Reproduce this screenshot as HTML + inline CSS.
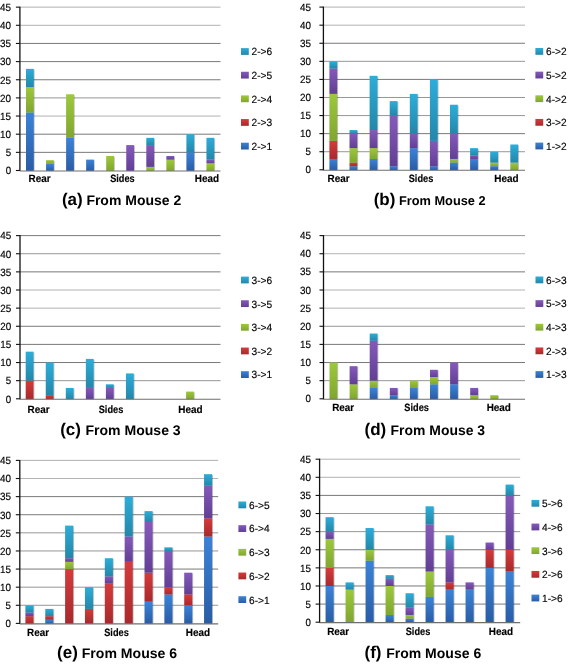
<!DOCTYPE html>
<html lang="en"><head><meta charset="utf-8"><title>Mouse interaction charts</title>
<style>
html,body{margin:0;padding:0;background:#fff;}
body{width:568px;height:664px;overflow:hidden;}
svg{display:block;}
text{font-family:"Liberation Sans",Arial,Helvetica,sans-serif;fill:#000;text-rendering:geometricPrecision;}
.yl{font-size:10.5px;text-anchor:end;stroke:#000;stroke-width:0.15px;}
.lg{font-size:10.5px;stroke:#000;stroke-width:0.15px;}
.ct{font-size:10.6px;font-weight:bold;text-anchor:middle;stroke:#000;stroke-width:0.15px;}
.tg{font-size:17px;font-weight:bold;}
.tt{font-size:14px;font-weight:bold;}
.grid{stroke-width:0.9;}
.gL{stroke:#a9a9a9;}
.gM{stroke:#8a8a8a;}
.gD{stroke:#6a6a6a;}
.base{stroke:#6e6e6e;stroke-width:1.1;}
.ax{stroke:#111;stroke-width:1.3;}
.tk{stroke:#111;stroke-width:1.1;}
</style></head><body>
<svg width="568" height="664" viewBox="0 0 568 664">
<defs>
<linearGradient id="gb" x1="0" y1="0" x2="0" y2="1"><stop offset="0" stop-color="#3b83d8"/><stop offset="1" stop-color="#2a5ca4"/></linearGradient>
<linearGradient id="gr" x1="0" y1="0" x2="0" y2="1"><stop offset="0" stop-color="#d63b3b"/><stop offset="1" stop-color="#a8292c"/></linearGradient>
<linearGradient id="gg" x1="0" y1="0" x2="0" y2="1"><stop offset="0" stop-color="#9dc83c"/><stop offset="1" stop-color="#80a62f"/></linearGradient>
<linearGradient id="gp" x1="0" y1="0" x2="0" y2="1"><stop offset="0" stop-color="#855aba"/><stop offset="1" stop-color="#613f94"/></linearGradient>
<linearGradient id="gt" x1="0" y1="0" x2="0" y2="1"><stop offset="0" stop-color="#2dadd9"/><stop offset="1" stop-color="#2387aa"/></linearGradient>
<filter id="sh" x="-30%" y="-5%" width="180%" height="115%"><feGaussianBlur stdDeviation="0.7"/></filter>
</defs>
<rect width="568" height="664" fill="#fff"/>
<g id="chart-a">
<line class="grid gD" x1="19.9" y1="152.35" x2="220.5" y2="152.35"/>
<line class="grid gD" x1="19.9" y1="134.2" x2="220.5" y2="134.2"/>
<line class="grid gL" x1="19.9" y1="116.05" x2="220.5" y2="116.05"/>
<line class="grid gM" x1="19.9" y1="97.9" x2="220.5" y2="97.9"/>
<line class="grid gD" x1="19.9" y1="79.75" x2="220.5" y2="79.75"/>
<line class="grid gD" x1="19.9" y1="61.6" x2="220.5" y2="61.6"/>
<line class="grid gD" x1="19.9" y1="43.45" x2="220.5" y2="43.45"/>
<line class="grid gL" x1="19.9" y1="25.3" x2="220.5" y2="25.3"/>
<line class="grid gL" x1="19.9" y1="7.15" x2="220.5" y2="7.15"/>
<rect x="26.9" y="69.66" width="7.8" height="100.84" fill="#000" opacity="0.22" filter="url(#sh)"/>
<rect x="26" y="112.42" width="7.8" height="58.48" fill="url(#gb)"/>
<rect x="26" y="87.01" width="7.8" height="25.41" fill="url(#gg)"/>
<rect x="26" y="68.86" width="7.8" height="18.15" fill="url(#gt)"/>
<rect x="46.95" y="160.95" width="7.8" height="9.55" fill="#000" opacity="0.22" filter="url(#sh)"/>
<rect x="46.05" y="163.78" width="7.8" height="7.12" fill="url(#gb)"/>
<rect x="46.05" y="160.15" width="7.8" height="3.63" fill="url(#gg)"/>
<rect x="67" y="95.07" width="7.8" height="75.43" fill="#000" opacity="0.22" filter="url(#sh)"/>
<rect x="66.1" y="137.83" width="7.8" height="33.07" fill="url(#gb)"/>
<rect x="66.1" y="94.27" width="7.8" height="43.56" fill="url(#gg)"/>
<rect x="87.05" y="160.41" width="7.8" height="10.09" fill="#000" opacity="0.22" filter="url(#sh)"/>
<rect x="86.15" y="159.61" width="7.8" height="11.29" fill="url(#gb)"/>
<rect x="107.1" y="156.78" width="7.8" height="13.72" fill="#000" opacity="0.22" filter="url(#sh)"/>
<rect x="106.2" y="155.98" width="7.8" height="14.92" fill="url(#gg)"/>
<rect x="127.15" y="145.89" width="7.8" height="24.61" fill="#000" opacity="0.22" filter="url(#sh)"/>
<rect x="126.25" y="145.09" width="7.8" height="25.81" fill="url(#gp)"/>
<rect x="147.2" y="138.63" width="7.8" height="31.87" fill="#000" opacity="0.22" filter="url(#sh)"/>
<rect x="146.3" y="166.87" width="7.8" height="4.03" fill="url(#gg)"/>
<rect x="146.3" y="145.09" width="7.8" height="21.78" fill="url(#gp)"/>
<rect x="146.3" y="137.83" width="7.8" height="7.26" fill="url(#gt)"/>
<rect x="167.25" y="156.78" width="7.8" height="13.72" fill="#000" opacity="0.22" filter="url(#sh)"/>
<rect x="166.35" y="159.61" width="7.8" height="11.29" fill="url(#gg)"/>
<rect x="166.35" y="155.98" width="7.8" height="3.63" fill="url(#gp)"/>
<rect x="187.3" y="135" width="7.8" height="35.5" fill="#000" opacity="0.22" filter="url(#sh)"/>
<rect x="186.4" y="152.35" width="7.8" height="18.55" fill="url(#gb)"/>
<rect x="186.4" y="134.2" width="7.8" height="18.15" fill="url(#gt)"/>
<rect x="207.35" y="138.63" width="7.8" height="31.87" fill="#000" opacity="0.22" filter="url(#sh)"/>
<rect x="206.45" y="163.24" width="7.8" height="7.66" fill="url(#gg)"/>
<rect x="206.45" y="159.61" width="7.8" height="3.63" fill="url(#gp)"/>
<rect x="206.45" y="137.83" width="7.8" height="21.78" fill="url(#gt)"/>
<line class="ax" x1="19.9" y1="6.65" x2="19.9" y2="171"/>
<line class="base" x1="19.9" y1="170.95" x2="220.5" y2="170.95"/>
<line class="tk" x1="15.9" y1="170.5" x2="19.9" y2="170.5"/>
<line class="tk" x1="15.9" y1="152.35" x2="19.9" y2="152.35"/>
<line class="tk" x1="15.9" y1="134.2" x2="19.9" y2="134.2"/>
<line class="tk" x1="15.9" y1="116.05" x2="19.9" y2="116.05"/>
<line class="tk" x1="15.9" y1="97.9" x2="19.9" y2="97.9"/>
<line class="tk" x1="15.9" y1="79.75" x2="19.9" y2="79.75"/>
<line class="tk" x1="15.9" y1="61.6" x2="19.9" y2="61.6"/>
<line class="tk" x1="15.9" y1="43.45" x2="19.9" y2="43.45"/>
<line class="tk" x1="15.9" y1="25.3" x2="19.9" y2="25.3"/>
<line class="tk" x1="15.9" y1="7.15" x2="19.9" y2="7.15"/>
<text class="yl" x="11.1" y="174" textLength="5.4" lengthAdjust="spacingAndGlyphs">0</text>
<text class="yl" x="11.1" y="156" textLength="5.4" lengthAdjust="spacingAndGlyphs">5</text>
<text class="yl" x="11.1" y="138" textLength="11" lengthAdjust="spacingAndGlyphs">10</text>
<text class="yl" x="11.1" y="120" textLength="11" lengthAdjust="spacingAndGlyphs">15</text>
<text class="yl" x="11.1" y="102" textLength="11" lengthAdjust="spacingAndGlyphs">20</text>
<text class="yl" x="11.1" y="84" textLength="11" lengthAdjust="spacingAndGlyphs">25</text>
<text class="yl" x="11.1" y="65" textLength="11" lengthAdjust="spacingAndGlyphs">30</text>
<text class="yl" x="11.1" y="47" textLength="11" lengthAdjust="spacingAndGlyphs">35</text>
<text class="yl" x="11.1" y="29" textLength="11" lengthAdjust="spacingAndGlyphs">40</text>
<text class="yl" x="11.1" y="11" textLength="11" lengthAdjust="spacingAndGlyphs">45</text>
<text class="ct" x="39.6" y="182" textLength="22" lengthAdjust="spacingAndGlyphs">Rear</text>
<text class="ct" x="122.4" y="182" textLength="24.5" lengthAdjust="spacingAndGlyphs">Sides</text>
<text class="ct" x="207" y="182" textLength="24.3" lengthAdjust="spacingAndGlyphs">Head</text>
<rect x="241" y="48.1" width="7.8" height="6.8" fill="url(#gt)"/>
<text class="lg" x="251.6" y="55" textLength="20.6" lengthAdjust="spacingAndGlyphs">2-&gt;6</text>
<rect x="241" y="71.75" width="7.8" height="6.8" fill="url(#gp)"/>
<text class="lg" x="251.6" y="79" textLength="20.6" lengthAdjust="spacingAndGlyphs">2-&gt;5</text>
<rect x="241" y="95.4" width="7.8" height="6.8" fill="url(#gg)"/>
<text class="lg" x="251.6" y="103" textLength="20.6" lengthAdjust="spacingAndGlyphs">2-&gt;4</text>
<rect x="241" y="119.05" width="7.8" height="6.8" fill="url(#gr)"/>
<text class="lg" x="251.6" y="126" textLength="20.6" lengthAdjust="spacingAndGlyphs">2-&gt;3</text>
<rect x="241" y="142.7" width="7.8" height="6.8" fill="url(#gb)"/>
<text class="lg" x="251.6" y="150" textLength="20.6" lengthAdjust="spacingAndGlyphs">2-&gt;1</text>
<text class="tg" x="61.9" y="205">(a)</text>
<text class="tt" x="86.4" y="205" style="font-size:14px" textLength="94.8" lengthAdjust="spacingAndGlyphs">From Mouse 2</text>
</g>
<g id="chart-b">
<line class="grid gM" x1="323.4" y1="151.72" x2="525" y2="151.72"/>
<line class="grid gD" x1="323.4" y1="133.64" x2="525" y2="133.64"/>
<line class="grid gM" x1="323.4" y1="115.57" x2="525" y2="115.57"/>
<line class="grid gM" x1="323.4" y1="97.49" x2="525" y2="97.49"/>
<line class="grid gD" x1="323.4" y1="79.41" x2="525" y2="79.41"/>
<line class="grid gM" x1="323.4" y1="61.33" x2="525" y2="61.33"/>
<line class="grid gD" x1="323.4" y1="43.26" x2="525" y2="43.26"/>
<line class="grid gL" x1="323.4" y1="25.18" x2="525" y2="25.18"/>
<line class="grid gL" x1="323.4" y1="7.1" x2="525" y2="7.1"/>
<rect x="330.3" y="62.13" width="7.8" height="107.67" fill="#000" opacity="0.22" filter="url(#sh)"/>
<rect x="329.4" y="158.95" width="7.8" height="11.25" fill="url(#gb)"/>
<rect x="329.4" y="140.88" width="7.8" height="18.08" fill="url(#gr)"/>
<rect x="329.4" y="93.87" width="7.8" height="47" fill="url(#gg)"/>
<rect x="329.4" y="68.56" width="7.8" height="25.31" fill="url(#gp)"/>
<rect x="329.4" y="61.33" width="7.8" height="7.23" fill="url(#gt)"/>
<rect x="350.4" y="130.83" width="7.8" height="38.97" fill="#000" opacity="0.22" filter="url(#sh)"/>
<rect x="349.5" y="166.18" width="7.8" height="4.02" fill="url(#gb)"/>
<rect x="349.5" y="162.57" width="7.8" height="3.62" fill="url(#gr)"/>
<rect x="349.5" y="148.11" width="7.8" height="14.46" fill="url(#gg)"/>
<rect x="349.5" y="133.64" width="7.8" height="14.46" fill="url(#gp)"/>
<rect x="349.5" y="130.03" width="7.8" height="3.62" fill="url(#gt)"/>
<rect x="370.5" y="76.6" width="7.8" height="93.2" fill="#000" opacity="0.22" filter="url(#sh)"/>
<rect x="369.6" y="158.95" width="7.8" height="11.25" fill="url(#gb)"/>
<rect x="369.6" y="148.11" width="7.8" height="10.85" fill="url(#gg)"/>
<rect x="369.6" y="130.03" width="7.8" height="18.08" fill="url(#gp)"/>
<rect x="369.6" y="75.8" width="7.8" height="54.23" fill="url(#gt)"/>
<rect x="390.6" y="101.9" width="7.8" height="67.9" fill="#000" opacity="0.22" filter="url(#sh)"/>
<rect x="389.7" y="166.18" width="7.8" height="4.02" fill="url(#gb)"/>
<rect x="389.7" y="115.57" width="7.8" height="50.62" fill="url(#gp)"/>
<rect x="389.7" y="101.1" width="7.8" height="14.46" fill="url(#gt)"/>
<rect x="410.7" y="94.67" width="7.8" height="75.13" fill="#000" opacity="0.22" filter="url(#sh)"/>
<rect x="409.8" y="148.11" width="7.8" height="22.09" fill="url(#gb)"/>
<rect x="409.8" y="133.64" width="7.8" height="14.46" fill="url(#gp)"/>
<rect x="409.8" y="93.87" width="7.8" height="39.77" fill="url(#gt)"/>
<rect x="430.8" y="80.21" width="7.8" height="89.59" fill="#000" opacity="0.22" filter="url(#sh)"/>
<rect x="429.9" y="166.18" width="7.8" height="4.02" fill="url(#gb)"/>
<rect x="429.9" y="140.88" width="7.8" height="25.31" fill="url(#gp)"/>
<rect x="429.9" y="79.41" width="7.8" height="61.46" fill="url(#gt)"/>
<rect x="450.9" y="105.52" width="7.8" height="64.28" fill="#000" opacity="0.22" filter="url(#sh)"/>
<rect x="450" y="162.57" width="7.8" height="7.63" fill="url(#gb)"/>
<rect x="450" y="158.95" width="7.8" height="3.62" fill="url(#gg)"/>
<rect x="450" y="133.64" width="7.8" height="25.31" fill="url(#gp)"/>
<rect x="450" y="104.72" width="7.8" height="28.92" fill="url(#gt)"/>
<rect x="471" y="148.91" width="7.8" height="20.89" fill="#000" opacity="0.22" filter="url(#sh)"/>
<rect x="470.1" y="158.95" width="7.8" height="11.25" fill="url(#gb)"/>
<rect x="470.1" y="155.34" width="7.8" height="3.62" fill="url(#gp)"/>
<rect x="470.1" y="148.11" width="7.8" height="7.23" fill="url(#gt)"/>
<rect x="491.1" y="152.52" width="7.8" height="17.28" fill="#000" opacity="0.22" filter="url(#sh)"/>
<rect x="490.2" y="166.18" width="7.8" height="4.02" fill="url(#gb)"/>
<rect x="490.2" y="162.57" width="7.8" height="3.62" fill="url(#gg)"/>
<rect x="490.2" y="151.72" width="7.8" height="10.85" fill="url(#gt)"/>
<rect x="511.2" y="145.29" width="7.8" height="24.51" fill="#000" opacity="0.22" filter="url(#sh)"/>
<rect x="510.3" y="162.57" width="7.8" height="7.63" fill="url(#gg)"/>
<rect x="510.3" y="144.49" width="7.8" height="18.08" fill="url(#gt)"/>
<line class="ax" x1="323.4" y1="6.6" x2="323.4" y2="170.3"/>
<line class="base" x1="323.4" y1="170.25" x2="525" y2="170.25"/>
<line class="tk" x1="319.4" y1="169.8" x2="323.4" y2="169.8"/>
<line class="tk" x1="319.4" y1="151.72" x2="323.4" y2="151.72"/>
<line class="tk" x1="319.4" y1="133.64" x2="323.4" y2="133.64"/>
<line class="tk" x1="319.4" y1="115.57" x2="323.4" y2="115.57"/>
<line class="tk" x1="319.4" y1="97.49" x2="323.4" y2="97.49"/>
<line class="tk" x1="319.4" y1="79.41" x2="323.4" y2="79.41"/>
<line class="tk" x1="319.4" y1="61.33" x2="323.4" y2="61.33"/>
<line class="tk" x1="319.4" y1="43.26" x2="323.4" y2="43.26"/>
<line class="tk" x1="319.4" y1="25.18" x2="323.4" y2="25.18"/>
<line class="tk" x1="319.4" y1="7.1" x2="323.4" y2="7.1"/>
<text class="yl" x="310.9" y="173" textLength="5.4" lengthAdjust="spacingAndGlyphs">0</text>
<text class="yl" x="310.9" y="155" textLength="5.4" lengthAdjust="spacingAndGlyphs">5</text>
<text class="yl" x="310.9" y="137" textLength="11" lengthAdjust="spacingAndGlyphs">10</text>
<text class="yl" x="310.9" y="119" textLength="11" lengthAdjust="spacingAndGlyphs">15</text>
<text class="yl" x="310.9" y="101" textLength="11" lengthAdjust="spacingAndGlyphs">20</text>
<text class="yl" x="310.9" y="83" textLength="11" lengthAdjust="spacingAndGlyphs">25</text>
<text class="yl" x="310.9" y="65" textLength="11" lengthAdjust="spacingAndGlyphs">30</text>
<text class="yl" x="310.9" y="47" textLength="11" lengthAdjust="spacingAndGlyphs">35</text>
<text class="yl" x="310.9" y="29" textLength="11" lengthAdjust="spacingAndGlyphs">40</text>
<text class="yl" x="310.9" y="11" textLength="11" lengthAdjust="spacingAndGlyphs">45</text>
<text class="ct" x="338.6" y="182" textLength="22" lengthAdjust="spacingAndGlyphs">Rear</text>
<text class="ct" x="421" y="182" textLength="24.5" lengthAdjust="spacingAndGlyphs">Sides</text>
<text class="ct" x="506.4" y="182" textLength="24.3" lengthAdjust="spacingAndGlyphs">Head</text>
<rect x="535.4" y="48" width="7.8" height="6.8" fill="url(#gt)"/>
<text class="lg" x="546" y="55" textLength="20.6" lengthAdjust="spacingAndGlyphs">6-&gt;2</text>
<rect x="535.4" y="71.65" width="7.8" height="6.8" fill="url(#gp)"/>
<text class="lg" x="546" y="79" textLength="20.6" lengthAdjust="spacingAndGlyphs">5-&gt;2</text>
<rect x="535.4" y="95.3" width="7.8" height="6.8" fill="url(#gg)"/>
<text class="lg" x="546" y="103" textLength="20.6" lengthAdjust="spacingAndGlyphs">4-&gt;2</text>
<rect x="535.4" y="118.95" width="7.8" height="6.8" fill="url(#gr)"/>
<text class="lg" x="546" y="126" textLength="20.6" lengthAdjust="spacingAndGlyphs">3-&gt;2</text>
<rect x="535.4" y="142.6" width="7.8" height="6.8" fill="url(#gb)"/>
<text class="lg" x="546" y="150" textLength="20.6" lengthAdjust="spacingAndGlyphs">1-&gt;2</text>
<text class="tg" x="373.7" y="205">(b)</text>
<text class="tt" x="398.9" y="205" style="font-size:12.8px" textLength="86.7" lengthAdjust="spacingAndGlyphs">From Mouse 2</text>
</g>
<g id="chart-c">
<line class="grid gM" x1="20" y1="380.67" x2="220.5" y2="380.67"/>
<line class="grid gD" x1="20" y1="362.53" x2="220.5" y2="362.53"/>
<line class="grid gD" x1="20" y1="344.4" x2="220.5" y2="344.4"/>
<line class="grid gD" x1="20" y1="326.27" x2="220.5" y2="326.27"/>
<line class="grid gL" x1="20" y1="308.13" x2="220.5" y2="308.13"/>
<line class="grid gL" x1="20" y1="290" x2="220.5" y2="290"/>
<line class="grid gD" x1="20" y1="271.87" x2="220.5" y2="271.87"/>
<line class="grid gM" x1="20" y1="253.73" x2="220.5" y2="253.73"/>
<line class="grid gD" x1="20" y1="235.6" x2="220.5" y2="235.6"/>
<rect x="26.6" y="352.45" width="7.8" height="46.35" fill="#000" opacity="0.22" filter="url(#sh)"/>
<rect x="25.7" y="380.67" width="7.8" height="18.53" fill="url(#gr)"/>
<rect x="25.7" y="351.65" width="7.8" height="29.01" fill="url(#gt)"/>
<rect x="46.65" y="363.33" width="7.8" height="35.47" fill="#000" opacity="0.22" filter="url(#sh)"/>
<rect x="45.75" y="395.17" width="7.8" height="4.03" fill="url(#gr)"/>
<rect x="45.75" y="362.53" width="7.8" height="32.64" fill="url(#gt)"/>
<rect x="66.7" y="388.72" width="7.8" height="10.08" fill="#000" opacity="0.22" filter="url(#sh)"/>
<rect x="65.8" y="387.92" width="7.8" height="11.28" fill="url(#gt)"/>
<rect x="86.75" y="359.71" width="7.8" height="39.09" fill="#000" opacity="0.22" filter="url(#sh)"/>
<rect x="85.85" y="387.92" width="7.8" height="11.28" fill="url(#gp)"/>
<rect x="85.85" y="358.91" width="7.8" height="29.01" fill="url(#gt)"/>
<rect x="106.8" y="385.09" width="7.8" height="13.71" fill="#000" opacity="0.22" filter="url(#sh)"/>
<rect x="105.9" y="387.92" width="7.8" height="11.28" fill="url(#gp)"/>
<rect x="105.9" y="384.29" width="7.8" height="3.63" fill="url(#gt)"/>
<rect x="126.85" y="374.21" width="7.8" height="24.59" fill="#000" opacity="0.22" filter="url(#sh)"/>
<rect x="125.95" y="373.41" width="7.8" height="25.79" fill="url(#gt)"/>
<rect x="187" y="392.35" width="7.8" height="6.45" fill="#000" opacity="0.22" filter="url(#sh)"/>
<rect x="186.1" y="391.55" width="7.8" height="7.65" fill="url(#gg)"/>
<line class="ax" x1="20" y1="235.1" x2="20" y2="399.3"/>
<line class="base" x1="20" y1="399.25" x2="220.5" y2="399.25"/>
<line class="tk" x1="16" y1="398.8" x2="20" y2="398.8"/>
<line class="tk" x1="16" y1="380.67" x2="20" y2="380.67"/>
<line class="tk" x1="16" y1="362.53" x2="20" y2="362.53"/>
<line class="tk" x1="16" y1="344.4" x2="20" y2="344.4"/>
<line class="tk" x1="16" y1="326.27" x2="20" y2="326.27"/>
<line class="tk" x1="16" y1="308.13" x2="20" y2="308.13"/>
<line class="tk" x1="16" y1="290" x2="20" y2="290"/>
<line class="tk" x1="16" y1="271.87" x2="20" y2="271.87"/>
<line class="tk" x1="16" y1="253.73" x2="20" y2="253.73"/>
<line class="tk" x1="16" y1="235.6" x2="20" y2="235.6"/>
<text class="yl" x="11.2" y="403" textLength="5.4" lengthAdjust="spacingAndGlyphs">0</text>
<text class="yl" x="11.2" y="384" textLength="5.4" lengthAdjust="spacingAndGlyphs">5</text>
<text class="yl" x="11.2" y="366" textLength="11" lengthAdjust="spacingAndGlyphs">10</text>
<text class="yl" x="11.2" y="348" textLength="11" lengthAdjust="spacingAndGlyphs">15</text>
<text class="yl" x="11.2" y="330" textLength="11" lengthAdjust="spacingAndGlyphs">20</text>
<text class="yl" x="11.2" y="312" textLength="11" lengthAdjust="spacingAndGlyphs">25</text>
<text class="yl" x="11.2" y="294" textLength="11" lengthAdjust="spacingAndGlyphs">30</text>
<text class="yl" x="11.2" y="276" textLength="11" lengthAdjust="spacingAndGlyphs">35</text>
<text class="yl" x="11.2" y="258" textLength="11" lengthAdjust="spacingAndGlyphs">40</text>
<text class="yl" x="11.2" y="239" textLength="11" lengthAdjust="spacingAndGlyphs">45</text>
<text class="ct" x="38.5" y="413" textLength="22" lengthAdjust="spacingAndGlyphs">Rear</text>
<text class="ct" x="111" y="413" textLength="24.5" lengthAdjust="spacingAndGlyphs">Sides</text>
<text class="ct" x="190.5" y="413" textLength="24.3" lengthAdjust="spacingAndGlyphs">Head</text>
<rect x="241" y="276.6" width="7.8" height="6.8" fill="url(#gt)"/>
<text class="lg" x="251.6" y="284" textLength="20.6" lengthAdjust="spacingAndGlyphs">3-&gt;6</text>
<rect x="241" y="300.25" width="7.8" height="6.8" fill="url(#gp)"/>
<text class="lg" x="251.6" y="308" textLength="20.6" lengthAdjust="spacingAndGlyphs">3-&gt;5</text>
<rect x="241" y="323.9" width="7.8" height="6.8" fill="url(#gg)"/>
<text class="lg" x="251.6" y="331" textLength="20.6" lengthAdjust="spacingAndGlyphs">3-&gt;4</text>
<rect x="241" y="347.55" width="7.8" height="6.8" fill="url(#gr)"/>
<text class="lg" x="251.6" y="355" textLength="20.6" lengthAdjust="spacingAndGlyphs">3-&gt;2</text>
<rect x="241" y="371.2" width="7.8" height="6.8" fill="url(#gb)"/>
<text class="lg" x="251.6" y="378" textLength="20.6" lengthAdjust="spacingAndGlyphs">3-&gt;1</text>
<text class="tg" x="60.2" y="435">(c)</text>
<text class="tt" x="85.4" y="435" style="font-size:14px" textLength="95.3" lengthAdjust="spacingAndGlyphs">From Mouse 3</text>
</g>
<g id="chart-d">
<line class="grid gM" x1="323.5" y1="380.67" x2="525" y2="380.67"/>
<line class="grid gD" x1="323.5" y1="362.53" x2="525" y2="362.53"/>
<line class="grid gD" x1="323.5" y1="344.4" x2="525" y2="344.4"/>
<line class="grid gM" x1="323.5" y1="326.27" x2="525" y2="326.27"/>
<line class="grid gL" x1="323.5" y1="308.13" x2="525" y2="308.13"/>
<line class="grid gL" x1="323.5" y1="290" x2="525" y2="290"/>
<line class="grid gD" x1="323.5" y1="271.87" x2="525" y2="271.87"/>
<line class="grid gL" x1="323.5" y1="253.73" x2="525" y2="253.73"/>
<line class="grid gM" x1="323.5" y1="235.6" x2="525" y2="235.6"/>
<rect x="330.4" y="363.33" width="7.8" height="35.47" fill="#000" opacity="0.22" filter="url(#sh)"/>
<rect x="329.5" y="362.53" width="7.8" height="36.67" fill="url(#gg)"/>
<rect x="350.5" y="366.96" width="7.8" height="31.84" fill="#000" opacity="0.22" filter="url(#sh)"/>
<rect x="349.6" y="384.29" width="7.8" height="14.91" fill="url(#gg)"/>
<rect x="349.6" y="366.16" width="7.8" height="18.13" fill="url(#gp)"/>
<rect x="370.6" y="334.32" width="7.8" height="64.48" fill="#000" opacity="0.22" filter="url(#sh)"/>
<rect x="369.7" y="387.92" width="7.8" height="11.28" fill="url(#gb)"/>
<rect x="369.7" y="380.67" width="7.8" height="7.25" fill="url(#gg)"/>
<rect x="369.7" y="340.77" width="7.8" height="39.89" fill="url(#gp)"/>
<rect x="369.7" y="333.52" width="7.8" height="7.25" fill="url(#gt)"/>
<rect x="390.7" y="388.72" width="7.8" height="10.08" fill="#000" opacity="0.22" filter="url(#sh)"/>
<rect x="389.8" y="395.17" width="7.8" height="4.03" fill="url(#gb)"/>
<rect x="389.8" y="387.92" width="7.8" height="7.25" fill="url(#gp)"/>
<rect x="410.8" y="381.47" width="7.8" height="17.33" fill="#000" opacity="0.22" filter="url(#sh)"/>
<rect x="409.9" y="387.92" width="7.8" height="11.28" fill="url(#gb)"/>
<rect x="409.9" y="380.67" width="7.8" height="7.25" fill="url(#gg)"/>
<rect x="430.9" y="370.59" width="7.8" height="28.21" fill="#000" opacity="0.22" filter="url(#sh)"/>
<rect x="430" y="384.29" width="7.8" height="14.91" fill="url(#gb)"/>
<rect x="430" y="377.04" width="7.8" height="7.25" fill="url(#gg)"/>
<rect x="430" y="369.79" width="7.8" height="7.25" fill="url(#gp)"/>
<rect x="451" y="363.33" width="7.8" height="35.47" fill="#000" opacity="0.22" filter="url(#sh)"/>
<rect x="450.1" y="384.29" width="7.8" height="14.91" fill="url(#gb)"/>
<rect x="450.1" y="362.53" width="7.8" height="21.76" fill="url(#gp)"/>
<rect x="471.1" y="388.72" width="7.8" height="10.08" fill="#000" opacity="0.22" filter="url(#sh)"/>
<rect x="470.2" y="395.17" width="7.8" height="4.03" fill="url(#gg)"/>
<rect x="470.2" y="387.92" width="7.8" height="7.25" fill="url(#gp)"/>
<rect x="491.2" y="395.97" width="7.8" height="2.83" fill="#000" opacity="0.22" filter="url(#sh)"/>
<rect x="490.3" y="395.17" width="7.8" height="4.03" fill="url(#gg)"/>
<line class="ax" x1="323.5" y1="235.1" x2="323.5" y2="399.3"/>
<line class="base" x1="323.5" y1="399.25" x2="525" y2="399.25"/>
<line class="tk" x1="319.5" y1="398.8" x2="323.5" y2="398.8"/>
<line class="tk" x1="319.5" y1="380.67" x2="323.5" y2="380.67"/>
<line class="tk" x1="319.5" y1="362.53" x2="323.5" y2="362.53"/>
<line class="tk" x1="319.5" y1="344.4" x2="323.5" y2="344.4"/>
<line class="tk" x1="319.5" y1="326.27" x2="323.5" y2="326.27"/>
<line class="tk" x1="319.5" y1="308.13" x2="323.5" y2="308.13"/>
<line class="tk" x1="319.5" y1="290" x2="323.5" y2="290"/>
<line class="tk" x1="319.5" y1="271.87" x2="323.5" y2="271.87"/>
<line class="tk" x1="319.5" y1="253.73" x2="323.5" y2="253.73"/>
<line class="tk" x1="319.5" y1="235.6" x2="323.5" y2="235.6"/>
<text class="yl" x="311" y="402" textLength="5.4" lengthAdjust="spacingAndGlyphs">0</text>
<text class="yl" x="311" y="384" textLength="5.4" lengthAdjust="spacingAndGlyphs">5</text>
<text class="yl" x="311" y="366" textLength="11" lengthAdjust="spacingAndGlyphs">10</text>
<text class="yl" x="311" y="348" textLength="11" lengthAdjust="spacingAndGlyphs">15</text>
<text class="yl" x="311" y="330" textLength="11" lengthAdjust="spacingAndGlyphs">20</text>
<text class="yl" x="311" y="312" textLength="11" lengthAdjust="spacingAndGlyphs">25</text>
<text class="yl" x="311" y="294" textLength="11" lengthAdjust="spacingAndGlyphs">30</text>
<text class="yl" x="311" y="275" textLength="11" lengthAdjust="spacingAndGlyphs">35</text>
<text class="yl" x="311" y="257" textLength="11" lengthAdjust="spacingAndGlyphs">40</text>
<text class="yl" x="311" y="239" textLength="11" lengthAdjust="spacingAndGlyphs">45</text>
<text class="ct" x="343.2" y="411" textLength="22" lengthAdjust="spacingAndGlyphs">Rear</text>
<text class="ct" x="416.6" y="411" textLength="24.5" lengthAdjust="spacingAndGlyphs">Sides</text>
<text class="ct" x="498.8" y="411" textLength="24.3" lengthAdjust="spacingAndGlyphs">Head</text>
<rect x="535.5" y="276.5" width="7.8" height="6.8" fill="url(#gt)"/>
<text class="lg" x="546.1" y="284" textLength="20.6" lengthAdjust="spacingAndGlyphs">6-&gt;3</text>
<rect x="535.5" y="300.15" width="7.8" height="6.8" fill="url(#gp)"/>
<text class="lg" x="546.1" y="307" textLength="20.6" lengthAdjust="spacingAndGlyphs">5-&gt;3</text>
<rect x="535.5" y="323.8" width="7.8" height="6.8" fill="url(#gg)"/>
<text class="lg" x="546.1" y="331" textLength="20.6" lengthAdjust="spacingAndGlyphs">4-&gt;3</text>
<rect x="535.5" y="347.45" width="7.8" height="6.8" fill="url(#gr)"/>
<text class="lg" x="546.1" y="355" textLength="20.6" lengthAdjust="spacingAndGlyphs">2-&gt;3</text>
<rect x="535.5" y="371.1" width="7.8" height="6.8" fill="url(#gb)"/>
<text class="lg" x="546.1" y="378" textLength="20.6" lengthAdjust="spacingAndGlyphs">1-&gt;3</text>
<text class="tg" x="364.5" y="435">(d)</text>
<text class="tt" x="390.6" y="435" style="font-size:14px" textLength="94.4" lengthAdjust="spacingAndGlyphs">From Mouse 3</text>
</g>
<g id="chart-e">
<line class="grid gM" x1="19.8" y1="605.29" x2="218.2" y2="605.29"/>
<line class="grid gM" x1="19.8" y1="587.18" x2="218.2" y2="587.18"/>
<line class="grid gD" x1="19.8" y1="569.07" x2="218.2" y2="569.07"/>
<line class="grid gM" x1="19.8" y1="550.96" x2="218.2" y2="550.96"/>
<line class="grid gM" x1="19.8" y1="532.84" x2="218.2" y2="532.84"/>
<line class="grid gD" x1="19.8" y1="514.73" x2="218.2" y2="514.73"/>
<line class="grid gD" x1="19.8" y1="496.62" x2="218.2" y2="496.62"/>
<line class="grid gL" x1="19.8" y1="478.51" x2="218.2" y2="478.51"/>
<line class="grid gL" x1="19.8" y1="460.4" x2="218.2" y2="460.4"/>
<rect x="26.3" y="606.09" width="8.1" height="17.31" fill="#000" opacity="0.22" filter="url(#sh)"/>
<rect x="25.4" y="616.16" width="8.1" height="7.64" fill="url(#gr)"/>
<rect x="25.4" y="612.53" width="8.1" height="3.62" fill="url(#gp)"/>
<rect x="25.4" y="605.29" width="8.1" height="7.24" fill="url(#gt)"/>
<rect x="46.15" y="609.71" width="8.1" height="13.69" fill="#000" opacity="0.22" filter="url(#sh)"/>
<rect x="45.25" y="619.78" width="8.1" height="4.02" fill="url(#gb)"/>
<rect x="45.25" y="616.16" width="8.1" height="3.62" fill="url(#gr)"/>
<rect x="45.25" y="608.91" width="8.1" height="7.24" fill="url(#gt)"/>
<rect x="66" y="526.4" width="8.1" height="97" fill="#000" opacity="0.22" filter="url(#sh)"/>
<rect x="65.1" y="569.07" width="8.1" height="54.73" fill="url(#gr)"/>
<rect x="65.1" y="561.82" width="8.1" height="7.24" fill="url(#gg)"/>
<rect x="65.1" y="558.2" width="8.1" height="3.62" fill="url(#gp)"/>
<rect x="65.1" y="525.6" width="8.1" height="32.6" fill="url(#gt)"/>
<rect x="85.85" y="587.98" width="8.1" height="35.42" fill="#000" opacity="0.22" filter="url(#sh)"/>
<rect x="84.95" y="608.91" width="8.1" height="14.89" fill="url(#gr)"/>
<rect x="84.95" y="587.18" width="8.1" height="21.73" fill="url(#gt)"/>
<rect x="105.7" y="559" width="8.1" height="64.4" fill="#000" opacity="0.22" filter="url(#sh)"/>
<rect x="104.8" y="583.56" width="8.1" height="40.24" fill="url(#gr)"/>
<rect x="104.8" y="576.31" width="8.1" height="7.24" fill="url(#gp)"/>
<rect x="104.8" y="558.2" width="8.1" height="18.11" fill="url(#gt)"/>
<rect x="125.55" y="497.42" width="8.1" height="125.98" fill="#000" opacity="0.22" filter="url(#sh)"/>
<rect x="124.65" y="561.82" width="8.1" height="61.98" fill="url(#gr)"/>
<rect x="124.65" y="536.47" width="8.1" height="25.36" fill="url(#gp)"/>
<rect x="124.65" y="496.62" width="8.1" height="39.84" fill="url(#gt)"/>
<rect x="145.4" y="511.91" width="8.1" height="111.49" fill="#000" opacity="0.22" filter="url(#sh)"/>
<rect x="144.5" y="601.67" width="8.1" height="22.13" fill="url(#gb)"/>
<rect x="144.5" y="572.69" width="8.1" height="28.98" fill="url(#gr)"/>
<rect x="144.5" y="521.98" width="8.1" height="50.71" fill="url(#gp)"/>
<rect x="144.5" y="511.11" width="8.1" height="10.87" fill="url(#gt)"/>
<rect x="165.25" y="548.13" width="8.1" height="75.27" fill="#000" opacity="0.22" filter="url(#sh)"/>
<rect x="164.35" y="594.42" width="8.1" height="29.38" fill="url(#gb)"/>
<rect x="164.35" y="587.18" width="8.1" height="7.24" fill="url(#gr)"/>
<rect x="164.35" y="550.96" width="8.1" height="36.22" fill="url(#gp)"/>
<rect x="164.35" y="547.33" width="8.1" height="3.62" fill="url(#gt)"/>
<rect x="185.1" y="573.49" width="8.1" height="49.91" fill="#000" opacity="0.22" filter="url(#sh)"/>
<rect x="184.2" y="605.29" width="8.1" height="18.51" fill="url(#gb)"/>
<rect x="184.2" y="594.42" width="8.1" height="10.87" fill="url(#gr)"/>
<rect x="184.2" y="572.69" width="8.1" height="21.73" fill="url(#gp)"/>
<rect x="204.95" y="474.96" width="8.1" height="148.44" fill="#000" opacity="0.22" filter="url(#sh)"/>
<rect x="204.05" y="536.47" width="8.1" height="87.33" fill="url(#gb)"/>
<rect x="204.05" y="518.36" width="8.1" height="18.11" fill="url(#gr)"/>
<rect x="204.05" y="485.76" width="8.1" height="32.6" fill="url(#gp)"/>
<rect x="204.05" y="474.16" width="8.1" height="11.59" fill="url(#gt)"/>
<line class="ax" x1="19.8" y1="459.9" x2="19.8" y2="623.9"/>
<line class="base" x1="19.8" y1="623.85" x2="218.2" y2="623.85"/>
<line class="tk" x1="15.8" y1="623.4" x2="19.8" y2="623.4"/>
<line class="tk" x1="15.8" y1="605.29" x2="19.8" y2="605.29"/>
<line class="tk" x1="15.8" y1="587.18" x2="19.8" y2="587.18"/>
<line class="tk" x1="15.8" y1="569.07" x2="19.8" y2="569.07"/>
<line class="tk" x1="15.8" y1="550.96" x2="19.8" y2="550.96"/>
<line class="tk" x1="15.8" y1="532.84" x2="19.8" y2="532.84"/>
<line class="tk" x1="15.8" y1="514.73" x2="19.8" y2="514.73"/>
<line class="tk" x1="15.8" y1="496.62" x2="19.8" y2="496.62"/>
<line class="tk" x1="15.8" y1="478.51" x2="19.8" y2="478.51"/>
<line class="tk" x1="15.8" y1="460.4" x2="19.8" y2="460.4"/>
<text class="yl" x="11" y="627" textLength="5.4" lengthAdjust="spacingAndGlyphs">0</text>
<text class="yl" x="11" y="609" textLength="5.4" lengthAdjust="spacingAndGlyphs">5</text>
<text class="yl" x="11" y="591" textLength="11" lengthAdjust="spacingAndGlyphs">10</text>
<text class="yl" x="11" y="573" textLength="11" lengthAdjust="spacingAndGlyphs">15</text>
<text class="yl" x="11" y="555" textLength="11" lengthAdjust="spacingAndGlyphs">20</text>
<text class="yl" x="11" y="537" textLength="11" lengthAdjust="spacingAndGlyphs">25</text>
<text class="yl" x="11" y="519" textLength="11" lengthAdjust="spacingAndGlyphs">30</text>
<text class="yl" x="11" y="500" textLength="11" lengthAdjust="spacingAndGlyphs">35</text>
<text class="yl" x="11" y="482" textLength="11" lengthAdjust="spacingAndGlyphs">40</text>
<text class="yl" x="11" y="464" textLength="11" lengthAdjust="spacingAndGlyphs">45</text>
<text class="ct" x="38" y="636" textLength="22" lengthAdjust="spacingAndGlyphs">Rear</text>
<text class="ct" x="116.5" y="636" textLength="24.5" lengthAdjust="spacingAndGlyphs">Sides</text>
<text class="ct" x="198" y="636" textLength="24.3" lengthAdjust="spacingAndGlyphs">Head</text>
<rect x="238.4" y="501.5" width="7.8" height="6.8" fill="url(#gt)"/>
<text class="lg" x="249" y="509" textLength="20.6" lengthAdjust="spacingAndGlyphs">6-&gt;5</text>
<rect x="238.4" y="525.18" width="7.8" height="6.8" fill="url(#gp)"/>
<text class="lg" x="249" y="532" textLength="20.6" lengthAdjust="spacingAndGlyphs">6-&gt;4</text>
<rect x="238.4" y="548.86" width="7.8" height="6.8" fill="url(#gg)"/>
<text class="lg" x="249" y="556" textLength="20.6" lengthAdjust="spacingAndGlyphs">6-&gt;3</text>
<rect x="238.4" y="572.54" width="7.8" height="6.8" fill="url(#gr)"/>
<text class="lg" x="249" y="580" textLength="20.6" lengthAdjust="spacingAndGlyphs">6-&gt;2</text>
<rect x="238.4" y="596.22" width="7.8" height="6.8" fill="url(#gb)"/>
<text class="lg" x="249" y="604" textLength="20.6" lengthAdjust="spacingAndGlyphs">6-&gt;1</text>
<text class="tg" x="57.1" y="658">(e)</text>
<text class="tt" x="81.7" y="658" style="font-size:14px" textLength="95.5" lengthAdjust="spacingAndGlyphs">From Mouse 6</text>
</g>
<g id="chart-f">
<line class="grid gD" x1="319.6" y1="604.09" x2="520.2" y2="604.09"/>
<line class="grid gD" x1="319.6" y1="585.98" x2="520.2" y2="585.98"/>
<line class="grid gD" x1="319.6" y1="567.87" x2="520.2" y2="567.87"/>
<line class="grid gD" x1="319.6" y1="549.76" x2="520.2" y2="549.76"/>
<line class="grid gM" x1="319.6" y1="531.64" x2="520.2" y2="531.64"/>
<line class="grid gM" x1="319.6" y1="513.53" x2="520.2" y2="513.53"/>
<line class="grid gD" x1="319.6" y1="495.42" x2="520.2" y2="495.42"/>
<line class="grid gL" x1="319.6" y1="477.31" x2="520.2" y2="477.31"/>
<line class="grid gL" x1="319.6" y1="459.2" x2="520.2" y2="459.2"/>
<rect x="326.45" y="517.96" width="8.1" height="104.24" fill="#000" opacity="0.22" filter="url(#sh)"/>
<rect x="325.55" y="585.98" width="8.1" height="36.62" fill="url(#gb)"/>
<rect x="325.55" y="567.87" width="8.1" height="18.11" fill="url(#gr)"/>
<rect x="325.55" y="538.89" width="8.1" height="28.98" fill="url(#gg)"/>
<rect x="325.55" y="531.64" width="8.1" height="7.24" fill="url(#gp)"/>
<rect x="325.55" y="517.16" width="8.1" height="14.49" fill="url(#gt)"/>
<rect x="346.45" y="583.16" width="8.1" height="39.04" fill="#000" opacity="0.22" filter="url(#sh)"/>
<rect x="345.55" y="589.6" width="8.1" height="33" fill="url(#gg)"/>
<rect x="345.55" y="582.36" width="8.1" height="7.24" fill="url(#gt)"/>
<rect x="366.45" y="528.82" width="8.1" height="93.38" fill="#000" opacity="0.22" filter="url(#sh)"/>
<rect x="365.55" y="560.62" width="8.1" height="61.98" fill="url(#gb)"/>
<rect x="365.55" y="549.76" width="8.1" height="10.87" fill="url(#gg)"/>
<rect x="365.55" y="528.02" width="8.1" height="21.73" fill="url(#gt)"/>
<rect x="386.45" y="575.91" width="8.1" height="46.29" fill="#000" opacity="0.22" filter="url(#sh)"/>
<rect x="385.55" y="614.96" width="8.1" height="7.64" fill="url(#gb)"/>
<rect x="385.55" y="585.98" width="8.1" height="28.98" fill="url(#gg)"/>
<rect x="385.55" y="578.73" width="8.1" height="7.24" fill="url(#gp)"/>
<rect x="385.55" y="575.11" width="8.1" height="3.62" fill="url(#gt)"/>
<rect x="406.45" y="594.02" width="8.1" height="28.18" fill="#000" opacity="0.22" filter="url(#sh)"/>
<rect x="405.55" y="618.58" width="8.1" height="4.02" fill="url(#gb)"/>
<rect x="405.55" y="614.96" width="8.1" height="3.62" fill="url(#gg)"/>
<rect x="405.55" y="607.71" width="8.1" height="7.24" fill="url(#gp)"/>
<rect x="405.55" y="593.22" width="8.1" height="14.49" fill="url(#gt)"/>
<rect x="426.45" y="507.09" width="8.1" height="115.11" fill="#000" opacity="0.22" filter="url(#sh)"/>
<rect x="425.55" y="596.84" width="8.1" height="25.76" fill="url(#gb)"/>
<rect x="425.55" y="571.49" width="8.1" height="25.36" fill="url(#gg)"/>
<rect x="425.55" y="524.4" width="8.1" height="47.09" fill="url(#gp)"/>
<rect x="425.55" y="506.29" width="8.1" height="18.11" fill="url(#gt)"/>
<rect x="446.45" y="536.07" width="8.1" height="86.13" fill="#000" opacity="0.22" filter="url(#sh)"/>
<rect x="445.55" y="589.6" width="8.1" height="33" fill="url(#gb)"/>
<rect x="445.55" y="582.36" width="8.1" height="7.24" fill="url(#gr)"/>
<rect x="445.55" y="549.76" width="8.1" height="32.6" fill="url(#gp)"/>
<rect x="445.55" y="535.27" width="8.1" height="14.49" fill="url(#gt)"/>
<rect x="466.45" y="583.16" width="8.1" height="39.04" fill="#000" opacity="0.22" filter="url(#sh)"/>
<rect x="465.55" y="589.6" width="8.1" height="33" fill="url(#gb)"/>
<rect x="465.55" y="582.36" width="8.1" height="7.24" fill="url(#gp)"/>
<rect x="486.45" y="543.31" width="8.1" height="78.89" fill="#000" opacity="0.22" filter="url(#sh)"/>
<rect x="485.55" y="567.87" width="8.1" height="54.73" fill="url(#gb)"/>
<rect x="485.55" y="549.76" width="8.1" height="18.11" fill="url(#gr)"/>
<rect x="485.55" y="542.51" width="8.1" height="7.24" fill="url(#gp)"/>
<rect x="506.45" y="485.36" width="8.1" height="136.84" fill="#000" opacity="0.22" filter="url(#sh)"/>
<rect x="505.55" y="571.49" width="8.1" height="51.11" fill="url(#gb)"/>
<rect x="505.55" y="549.76" width="8.1" height="21.73" fill="url(#gr)"/>
<rect x="505.55" y="495.42" width="8.1" height="54.33" fill="url(#gp)"/>
<rect x="505.55" y="484.56" width="8.1" height="10.87" fill="url(#gt)"/>
<line class="ax" x1="319.6" y1="458.7" x2="319.6" y2="622.7"/>
<line class="base" x1="319.6" y1="622.65" x2="520.2" y2="622.65"/>
<line class="tk" x1="315.6" y1="622.2" x2="319.6" y2="622.2"/>
<line class="tk" x1="315.6" y1="604.09" x2="319.6" y2="604.09"/>
<line class="tk" x1="315.6" y1="585.98" x2="319.6" y2="585.98"/>
<line class="tk" x1="315.6" y1="567.87" x2="319.6" y2="567.87"/>
<line class="tk" x1="315.6" y1="549.76" x2="319.6" y2="549.76"/>
<line class="tk" x1="315.6" y1="531.64" x2="319.6" y2="531.64"/>
<line class="tk" x1="315.6" y1="513.53" x2="319.6" y2="513.53"/>
<line class="tk" x1="315.6" y1="495.42" x2="319.6" y2="495.42"/>
<line class="tk" x1="315.6" y1="477.31" x2="319.6" y2="477.31"/>
<line class="tk" x1="315.6" y1="459.2" x2="319.6" y2="459.2"/>
<text class="yl" x="311" y="626" textLength="5.4" lengthAdjust="spacingAndGlyphs">0</text>
<text class="yl" x="311" y="608" textLength="5.4" lengthAdjust="spacingAndGlyphs">5</text>
<text class="yl" x="311" y="590" textLength="11" lengthAdjust="spacingAndGlyphs">10</text>
<text class="yl" x="311" y="572" textLength="11" lengthAdjust="spacingAndGlyphs">15</text>
<text class="yl" x="311" y="554" textLength="11" lengthAdjust="spacingAndGlyphs">20</text>
<text class="yl" x="311" y="535" textLength="11" lengthAdjust="spacingAndGlyphs">25</text>
<text class="yl" x="311" y="517" textLength="11" lengthAdjust="spacingAndGlyphs">30</text>
<text class="yl" x="311" y="499" textLength="11" lengthAdjust="spacingAndGlyphs">35</text>
<text class="yl" x="311" y="481" textLength="11" lengthAdjust="spacingAndGlyphs">40</text>
<text class="yl" x="311" y="463" textLength="11" lengthAdjust="spacingAndGlyphs">45</text>
<text class="ct" x="338.2" y="635" textLength="22" lengthAdjust="spacingAndGlyphs">Rear</text>
<text class="ct" x="418" y="635" textLength="24.5" lengthAdjust="spacingAndGlyphs">Sides</text>
<text class="ct" x="501" y="635" textLength="24.3" lengthAdjust="spacingAndGlyphs">Head</text>
<rect x="531.5" y="499.9" width="7.8" height="6.8" fill="url(#gt)"/>
<text class="lg" x="542.1" y="507" textLength="20.6" lengthAdjust="spacingAndGlyphs">5-&gt;6</text>
<rect x="531.5" y="523.58" width="7.8" height="6.8" fill="url(#gp)"/>
<text class="lg" x="542.1" y="531" textLength="20.6" lengthAdjust="spacingAndGlyphs">4-&gt;6</text>
<rect x="531.5" y="547.26" width="7.8" height="6.8" fill="url(#gg)"/>
<text class="lg" x="542.1" y="555" textLength="20.6" lengthAdjust="spacingAndGlyphs">3-&gt;6</text>
<rect x="531.5" y="570.94" width="7.8" height="6.8" fill="url(#gr)"/>
<text class="lg" x="542.1" y="578" textLength="20.6" lengthAdjust="spacingAndGlyphs">2-&gt;6</text>
<rect x="531.5" y="594.62" width="7.8" height="6.8" fill="url(#gb)"/>
<text class="lg" x="542.1" y="602" textLength="20.6" lengthAdjust="spacingAndGlyphs">1-&gt;6</text>
<text class="tg" x="364.5" y="658">(f)</text>
<text class="tt" x="386.2" y="658" style="font-size:14px" textLength="95" lengthAdjust="spacingAndGlyphs">From Mouse 6</text>
</g>
</svg>
</body></html>
